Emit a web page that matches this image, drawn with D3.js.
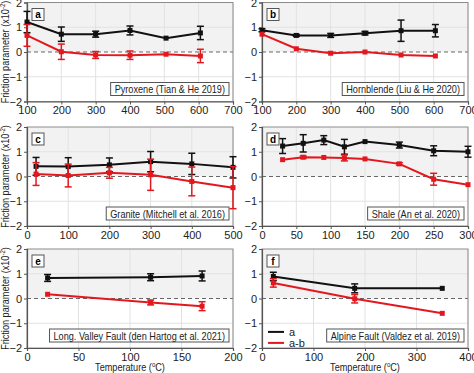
<!DOCTYPE html>
<html>
<head>
<meta charset="utf-8">
<script src="https://cdnjs.cloudflare.com/ajax/libs/d3/7.8.5/d3.min.js"></script>
<style>
  body { margin: 0; background: #fff; }
  svg { font-family: "Liberation Sans", Arial, sans-serif; }
</style>
</head>
<body>
<div class="chart"></div>
<script>
// values (x10^-2)
var pyroT = [ 100, 200, 300, 400, 505, 605 ];
var pyroA = [ 1.21, 0.72, 0.72, 0.87, 0.56, 0.77 ];
var pyroAErr = [ 0.43, 0.29, 0.12, 0.18, 0, 0.27 ];
var pyroAB = [ 0.67, 0.01, -0.12, -0.13, -0.09, -0.16 ];
var pyroABErr = [ 0.44, 0.31, 0.14, 0.17, 0, 0.27 ];

var hornT = [ 100, 200, 300, 400, 505, 605 ];
var hornA = [ 0.88, 0.67, 0.67, 0.76, 0.86, 0.86 ];
var hornAErr = [ 0.06, 0.04, 0.08, 0.07, 0.43, 0.25 ];
var hornAB = [ 0.72, 0.13, -0.05, 0.0, -0.12, -0.16 ];
var hornABErr = [ 0, 0, 0, 0, 0, 0 ];

var graniteT = [ 22, 100, 200, 300, 400, 500 ];
var graniteA = [ 0.41, 0.40, 0.47, 0.60, 0.51, 0.37 ];
var graniteAErr = [ 0.36, 0.36, 0.28, 0.41, 0.43, 0.43 ];
var graniteAB = [ 0.10, 0.04, 0.15, 0.07, -0.20, -0.45 ];
var graniteABErr = [ 0.46, 0.46, 0.22, 0.63, 0.58, 0.85 ];

var shaleT = [ 30, 60, 90, 120, 150, 200, 250, 300 ];
var shaleA = [ 1.23, 1.34, 1.47, 1.20, 1.41, 1.27, 1.04, 1.00 ];
var shaleAErr = [ 0.30, 0.35, 0.18, 0.30, 0, 0.12, 0.20, 0.22 ];
var shaleAB = [ 0.68, 0.78, 0.77, 0.75, 0.71, 0.51, -0.11, -0.33 ];
var shaleABErr = [ 0, 0.05, 0, 0.12, 0, 0.05, 0.24, 0 ];

var valleyT = [ 20, 120, 170 ];
var valleyA = [ 0.83, 0.86, 0.91 ];
var valleyAErr = [ 0.14, 0.14, 0.2 ];
var valleyAB = [ 0.17, -0.16, -0.31 ];
var valleyABErr = [ 0, 0.1, 0.18 ];

var alpineT = [ 22, 180, 350 ];
var alpineA = [ 0.89, 0.41, 0.41 ];
var alpineAErr = [ 0.17, 0.18, 0 ];
var alpineAB = [ 0.63, -0.01, -0.60 ];
var alpineABErr = [ 0.17, 0.17, 0 ];

var panelLetters = [ 'a', 'b', 'c', 'd', 'e', 'f' ];
var panelNames = [ 'Pyroxene (Tian & He 2019)', 'Hornblende (Liu & He 2020)',
    'Granite (Mitchell et al. 2016)', 'Shale (An et al. 2020)',
    'Long. Valley Fault (den Hartog et al. 2021)', 'Alpine Fault (Valdez et al. 2019)' ];
var xDomains = [ [ 100, 700 ], [ 100, 700 ], [ 0, 500 ], [ 0, 300 ], [ 0, 200 ], [ 0, 400 ] ];
var xTickSteps = [ 100, 100, 100, 50, 50, 100 ];
var yTicks = [ -2, -1, 0, 1, 2 ];
var legendNames = [ 'a', 'a-b' ];

var panels = [
    { t: pyroT, a: pyroA, aErr: pyroAErr, ab: pyroAB, abErr: pyroABErr },
    { t: hornT, a: hornA, aErr: hornAErr, ab: hornAB, abErr: hornABErr },
    { t: graniteT, a: graniteA, aErr: graniteAErr, ab: graniteAB, abErr: graniteABErr },
    { t: shaleT, a: shaleA, aErr: shaleAErr, ab: shaleAB, abErr: shaleABErr },
    { t: valleyT, a: valleyA, aErr: valleyAErr, ab: valleyAB, abErr: valleyABErr },
    { t: alpineT, a: alpineA, aErr: alpineAErr, ab: alpineAB, abErr: alpineABErr }
];

var red = '#e3181f';
var squeeze = 0.87; // the original font is narrower than Liberation Sans
var colLeft = [ 27, 262 ];
var plotW = 206;
var rowTop = [ 2.5, 127, 249 ];
var plotH = 99;

var svg = d3.select( '.chart' )
    .append( 'svg' )
    .attr( 'width', 474 )
    .attr( 'height', 373 );

function narrow( sel ) {
    var len = sel.node().getComputedTextLength();
    sel.attr( 'textLength', len * squeeze ).attr( 'lengthAdjust', 'spacingAndGlyphs' );
}

panels.forEach( function( p, i ) {
    var col = i % 2, row = Math.floor( i / 2 );
    var g = svg.append( 'g' )
        .attr( 'transform', 'translate(' + colLeft[ col ] + ',' + rowTop[ row ] + ')' );

    var x = d3.scaleLinear().domain( xDomains[ i ] ).range( [ 0, plotW ] );
    var y = d3.scaleLinear().domain( [ -2, 2 ] ).range( [ plotH, 0 ] );
    var xTicks = d3.range( xDomains[ i ][ 0 ], xDomains[ i ][ 1 ] + 1, xTickSteps[ i ] );

    // shaded positive half
    g.append( 'rect' )
        .attr( 'x', 0 ).attr( 'y', y( 2 ) )
        .attr( 'width', plotW ).attr( 'height', y( 0 ) - y( 2 ) )
        .attr( 'fill', '#f2f2f2' );

    // grid
    g.selectAll( '.vgrid' ).data( xTicks ).enter().append( 'line' )
        .attr( 'x1', d => x( d ) ).attr( 'x2', d => x( d ) )
        .attr( 'y1', 0 ).attr( 'y2', plotH )
        .attr( 'stroke', '#e2e2e2' ).attr( 'stroke-width', 1 );
    g.selectAll( '.hgrid' ).data( [ -1, 1 ] ).enter().append( 'line' )
        .attr( 'x1', 0 ).attr( 'x2', plotW )
        .attr( 'y1', d => y( d ) ).attr( 'y2', d => y( d ) )
        .attr( 'stroke', '#e2e2e2' ).attr( 'stroke-width', 1 );

    // zero line
    g.append( 'line' )
        .attr( 'x1', 0 ).attr( 'x2', plotW )
        .attr( 'y1', y( 0 ) ).attr( 'y2', y( 0 ) )
        .attr( 'stroke', '#666' ).attr( 'stroke-width', 1 )
        .attr( 'stroke-dasharray', '4,3' );

    // frame
    g.append( 'rect' )
        .attr( 'width', plotW ).attr( 'height', plotH )
        .attr( 'fill', 'none' ).attr( 'stroke', '#8c8c8c' ).attr( 'stroke-width', 1 );

    // axes
    var xAxis = g.append( 'g' )
        .attr( 'transform', 'translate(0,' + plotH + ')' )
        .call( d3.axisBottom( x ).tickValues( xTicks ).tickSize( 3 ).tickPadding( 2 ).tickFormat( d3.format( 'd' ) ) );
    var yAxis = g.append( 'g' )
        .call( d3.axisLeft( y ).tickValues( yTicks ).tickSize( 3 ).tickFormat( d3.format( 'd' ) ) );
    [ xAxis, yAxis ].forEach( function( ax ) {
        ax.select( '.domain' ).attr( 'stroke', '#555' ).attr( 'stroke-width', 1.2 );
        ax.selectAll( '.tick line' ).attr( 'stroke', '#555' );
        ax.selectAll( 'text' ).attr( 'font-size', 11 ).attr( 'fill', '#222' );
    });
    yAxis.selectAll( 'text' ).attr( 'x', -5 );

    // series
    var series = [
        { v: p.a, e: p.aErr, c: '#111' },
        { v: p.ab, e: p.abErr, c: red }
    ];
    series.forEach( function( s ) {
        var pts = p.t.map( function( t, k ) { return { t: t, v: s.v[ k ], e: s.e[ k ] }; } );
        g.append( 'path' )
            .datum( pts )
            .attr( 'fill', 'none' ).attr( 'stroke', s.c ).attr( 'stroke-width', 2 )
            .attr( 'd', d3.line().x( d => x( d.t ) ).y( d => y( d.v ) ) );
        var eb = g.selectAll( null ).data( pts.filter( d => d.e > 0 ) ).enter().append( 'g' );
        eb.append( 'line' )
            .attr( 'x1', d => x( d.t ) ).attr( 'x2', d => x( d.t ) )
            .attr( 'y1', d => y( d.v - d.e ) ).attr( 'y2', d => y( d.v + d.e ) )
            .attr( 'stroke', s.c ).attr( 'stroke-width', 1.5 );
        [ -1, 1 ].forEach( function( sg ) {
            eb.append( 'line' )
                .attr( 'x1', d => x( d.t ) - 3.5 ).attr( 'x2', d => x( d.t ) + 3.5 )
                .attr( 'y1', d => y( d.v + sg * d.e ) ).attr( 'y2', d => y( d.v + sg * d.e ) )
                .attr( 'stroke', s.c ).attr( 'stroke-width', 1.5 );
        });
        g.selectAll( null ).data( pts ).enter().append( 'rect' )
            .attr( 'x', d => x( d.t ) - 2.5 ).attr( 'y', d => y( d.v ) - 2.5 )
            .attr( 'width', 5 ).attr( 'height', 5 )
            .attr( 'fill', s.c );
    });

    // panel letter
    g.append( 'rect' )
        .attr( 'x', 5 ).attr( 'y', 6 ).attr( 'width', 12 ).attr( 'height', 12 )
        .attr( 'fill', '#fff' ).attr( 'stroke', '#555' ).attr( 'stroke-width', 1 );
    g.append( 'text' )
        .attr( 'x', 11 ).attr( 'y', 15.5 )
        .attr( 'text-anchor', 'middle' ).attr( 'font-size', 10 ).attr( 'font-weight', 'bold' )
        .text( panelLetters[ i ] );

    // source box
    var label = g.append( 'text' )
        .attr( 'x', plotW - 8 ).attr( 'y', plotH - 8.5 )
        .attr( 'text-anchor', 'end' ).attr( 'font-size', 10.5 ).attr( 'fill', '#222' )
        .text( panelNames[ i ] );
    narrow( label );
    var bb = label.node().getBBox();
    g.insert( 'rect', function() { return label.node(); } )
        .attr( 'x', bb.x - 4 ).attr( 'y', bb.y - 0.5 )
        .attr( 'width', bb.width + 8 ).attr( 'height', bb.height + 1 )
        .attr( 'fill', '#fff' ).attr( 'stroke', '#555' ).attr( 'stroke-width', 1 );

    // y label on left column
    if ( col === 0 ) {
        var ly = svg.append( 'text' )
            .attr( 'transform', 'translate(9,' + ( rowTop[ row ] + plotH / 2 ) + ') rotate(-90) scale(' + squeeze + ',1)' )
            .attr( 'text-anchor', 'middle' ).attr( 'font-size', 10.5 ).attr( 'fill', '#222' );
        ly.append( 'tspan' ).text( 'Friction parameter (x10' );
        ly.append( 'tspan' ).attr( 'font-size', 7 ).attr( 'dy', -4 ).text( '-2' );
        ly.append( 'tspan' ).attr( 'dy', 4 ).text( ')' );
    }

    // x label on bottom row
    if ( row === 2 ) {
        var lx = svg.append( 'text' )
            .attr( 'transform', 'translate(' + ( colLeft[ col ] + plotW / 2 ) + ',371) scale(' + squeeze + ',1)' )
            .attr( 'text-anchor', 'middle' ).attr( 'font-size', 10.5 ).attr( 'fill', '#222' );
        lx.append( 'tspan' ).text( 'Temperature (' );
        lx.append( 'tspan' ).attr( 'font-size', 7 ).attr( 'dy', -4 ).text( 'o' );
        lx.append( 'tspan' ).attr( 'dy', 4 ).text( 'C)' );
    }

    // legend in last panel
    if ( i === 5 ) {
        var leg = g.selectAll( '.leg' ).data( legendNames ).enter().append( 'g' )
            .attr( 'transform', function( d, k ) { return 'translate(6,' + ( y( -1.35 ) + k * 11 ) + ')'; } );
        leg.append( 'line' )
            .attr( 'x1', 0 ).attr( 'x2', 16 )
            .attr( 'stroke', function( d, k ) { return k ? red : '#111'; } ).attr( 'stroke-width', 2 );
        leg.append( 'text' )
            .attr( 'x', 21 ).attr( 'y', 4 ).attr( 'font-size', 11 ).attr( 'fill', '#222' )
            .text( d => d );
    }
});
</script>
</body>
</html>
